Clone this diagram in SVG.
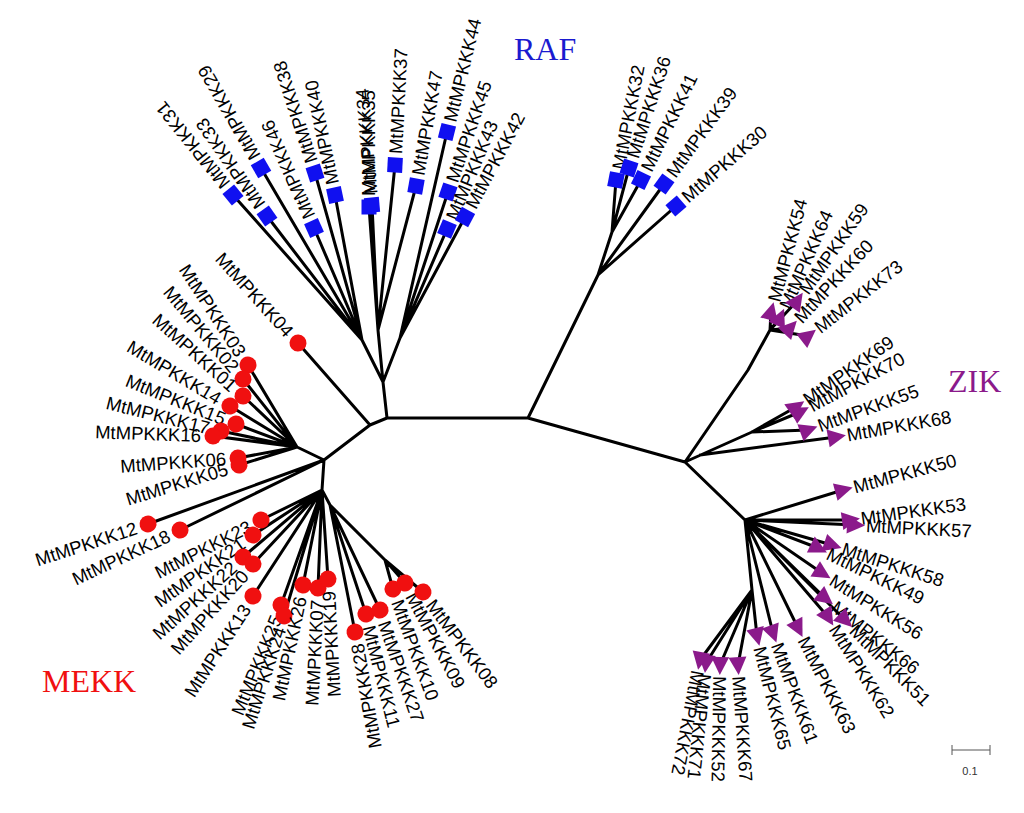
<svg xmlns="http://www.w3.org/2000/svg" xmlns:xlink="http://www.w3.org/1999/xlink" width="1024" height="813" viewBox="0 0 1024 813">
<style>
text{font-family:"Liberation Sans",Arial,sans-serif;font-size:18.5px;fill:#000}
.n text{text-anchor:start}
.e text{text-anchor:end}
.grp{font-family:"Liberation Serif","Times New Roman",serif;font-size:32px}
.br{fill:none;stroke:#000;stroke-width:3;stroke-linecap:round;stroke-linejoin:round}
</style>
<defs>
<rect id="sq" x="-7.5" y="-7.5" width="15" height="15" fill="#1010f0"/>
<circle id="ci" r="8.5" fill="#f01010"/>
<polygon id="tr" points="-8,-9 10,0 -8,9" fill="#8b1a8b"/>
</defs>
<rect width="1024" height="813" fill="#fff"/>
<g id="connectors" class="br">
<path d="M387,418 L528,418 L685,462 M387,418 L383,382
M383,382 L362,340 M362,340 L233,195 M362,340 L267,216 M362,340 L261,168 M362,340 L314,228 M362,340 L315,173 M362,340 L335,195
M383,382 L378,330 M378,330 L372,205 M378,330 L369,207 M378,330 L395,165 M378,330 L416,186
M383,382 L400,338 M400,338 L447,132 M400,338 L448,192 M400,338 L447,229 M400,338 L465,217
M528,418 L598,275 L612,232 M612,232 L616,180 M612,232 L629,168 M612,232 L641,180 M598,275 L664,184 M598,275 L676,206
M685,462 L748,370 L770,330 M770,330 L771,312 M770,330 L780,318 M770,330 L797,301 M770,330 L790,328 M770,330 L808,336
M685,462 L752,432 M752,432 L796,407 M752,432 L800,412 M752,432 L808,430 M700,455 L836,437
M685,462 L745,520 M745,520 L843,490 M745,520 L850,520 M745,520 L855,525 M745,520 L832,545 M745,520 L818,548 M745,520 L822,573 M745,520 L825,598 M745,520 L845,620 M745,520 L828,617 M745,520 L798,628 M745,520 L773,633
M745,520 L752,590 M752,590 L757,636 M752,590 L738,665 M752,590 L720,665 M752,590 L706,663 M752,590 L700,660
M387,418 L370,425 L324,460 M370,425 L298,343 M324,460 L297,447
M297,447 L248,365 M297,447 L243,379 M297,447 L243,396 M297,447 L230,406 M297,447 L236,424 M297,447 L221,431 M297,447 L213,436 M297,447 L238,458 M297,447 L239,465
M324,460 L148,524 M324,460 L180,530 M324,460 L322,490
M322,490 L261,520 M322,490 L253,535 M322,490 L243,557 M322,490 L253,564 M322,490 L253,596 M322,490 L281,605 M322,490 L284,616 M322,490 L303,585 M322,490 L318,588 M322,490 L328,579
M322,490 L330,505 M330,505 L355,632 M330,505 L366,614 M330,505 L380,610 M330,505 L385,560 M385,560 L393,589 M385,560 L405,583 M385,560 L423,592"/>
</g>
<g id="RAF" class="n">
<g id="MtMPKKK31" transform="translate(233,195) rotate(-129)"><use href="#sq"/><text x="11" dy="0.35em">MtMPKKK31</text></g>
<g id="MtMPKKK33" transform="translate(267,216) rotate(-125)"><use href="#sq"/><text x="11" dy="0.35em">MtMPKKK33</text></g>
<g id="MtMPKKK29" transform="translate(261,168) rotate(-120)"><use href="#sq"/><text x="11" dy="0.35em">MtMPKKK29</text></g>
<g id="MtMPKKK46" transform="translate(314,228) rotate(-114)"><use href="#sq"/><text x="11" dy="0.35em">MtMPKKK46</text></g>
<g id="MtMPKKK38" transform="translate(315,173) rotate(-108)"><use href="#sq"/><text x="11" dy="0.35em">MtMPKKK38</text></g>
<g id="MtMPKKK40" transform="translate(335,195) rotate(-102)"><use href="#sq"/><text x="11" dy="0.35em">MtMPKKK40</text></g>
<g id="MtMPKKK34" transform="translate(372,205) rotate(-95)"><use href="#sq"/><text x="11" dy="0.35em">MtMPKKK34</text></g>
<g id="MtMPKKK35" transform="translate(369,207) rotate(-90)"><use href="#sq"/><text x="11" dy="0.35em">MtMPKKK35</text></g>
<g id="MtMPKKK37" transform="translate(395,165) rotate(-87)"><use href="#sq"/><text x="11" dy="0.35em">MtMPKKK37</text></g>
<g id="MtMPKKK47" transform="translate(416,186) rotate(-80)"><use href="#sq"/><text x="11" dy="0.35em">MtMPKKK47</text></g>
<g id="MtMPKKK44" transform="translate(447,132) rotate(-76)"><use href="#sq"/><text x="11" dy="0.35em">MtMPKKK44</text></g>
<g id="MtMPKKK45" transform="translate(448,192) rotate(-71)"><use href="#sq"/><text x="11" dy="0.35em">MtMPKKK45</text></g>
<g id="MtMPKKK43" transform="translate(447,229) rotate(-67)"><use href="#sq"/><text x="11" dy="0.35em">MtMPKKK43</text></g>
<g id="MtMPKKK42" transform="translate(465,217) rotate(-62)"><use href="#sq"/><text x="11" dy="0.35em">MtMPKKK42</text></g>
<g id="MtMPKKK32" transform="translate(616,180) rotate(-79)"><use href="#sq"/><text x="11" dy="0.35em">MtMPKKK32</text></g>
<g id="MtMPKKK36" transform="translate(629,168) rotate(-72)"><use href="#sq"/><text x="11" dy="0.35em">MtMPKKK36</text></g>
<g id="MtMPKKK41" transform="translate(641,180) rotate(-64)"><use href="#sq"/><text x="11" dy="0.35em">MtMPKKK41</text></g>
<g id="MtMPKKK39" transform="translate(664,184) rotate(-54)"><use href="#sq"/><text x="11" dy="0.35em">MtMPKKK39</text></g>
<g id="MtMPKKK30" transform="translate(676,206) rotate(-41)"><use href="#sq"/><text x="11" dy="0.35em">MtMPKKK30</text></g>
</g>
<g id="ZIK" class="n">
<g id="MtMPKKK54" transform="translate(771,312) rotate(-75)"><use href="#tr"/><text x="11" dy="0.35em">MtMPKKK54</text></g>
<g id="MtMPKKK64" transform="translate(780,318) rotate(-66)"><use href="#tr"/><text x="11" dy="0.35em">MtMPKKK64</text></g>
<g id="MtMPKKK59" transform="translate(797,301) rotate(-55)"><use href="#tr"/><text x="11" dy="0.35em">MtMPKKK59</text></g>
<g id="MtMPKKK60" transform="translate(790,328) rotate(-47)"><use href="#tr"/><text x="11" dy="0.35em">MtMPKKK60</text></g>
<g id="MtMPKKK73" transform="translate(808,336) rotate(-38)"><use href="#tr"/><text x="11" dy="0.35em">MtMPKKK73</text></g>
<g id="MtMPKKK69" transform="translate(796,407) rotate(-35)"><use href="#tr"/><text x="11" dy="0.35em">MtMPKKK69</text></g>
<g id="MtMPKKK70" transform="translate(800,412) rotate(-28)"><use href="#tr"/><text x="11" dy="0.35em">MtMPKKK70</text></g>
<g id="MtMPKKK55" transform="translate(808,430) rotate(-20)"><use href="#tr"/><text x="11" dy="0.35em">MtMPKKK55</text></g>
<g id="MtMPKKK68" transform="translate(836,437) rotate(-10)"><use href="#tr"/><text x="11" dy="0.35em">MtMPKKK68</text></g>
<g id="MtMPKKK50" transform="translate(843,490) rotate(-15)"><use href="#tr"/><text x="11" dy="0.35em">MtMPKKK50</text></g>
<g id="MtMPKKK53" transform="translate(850,520) rotate(-8)"><use href="#tr"/><text x="11" dy="0.35em">MtMPKKK53</text></g>
<g id="MtMPKKK57" transform="translate(855,525) rotate(3)"><use href="#tr"/><text x="11" dy="0.35em">MtMPKKK57</text></g>
<g id="MtMPKKK58" transform="translate(832,545) rotate(18)"><use href="#tr"/><text x="11" dy="0.35em">MtMPKKK58</text></g>
<g id="MtMPKKK49" transform="translate(818,548) rotate(26)"><use href="#tr"/><text x="11" dy="0.35em">MtMPKKK49</text></g>
<g id="MtMPKKK56" transform="translate(822,573) rotate(32)"><use href="#tr"/><text x="11" dy="0.35em">MtMPKKK56</text></g>
<g id="MtMPKKK66" transform="translate(825,598) rotate(38)"><use href="#tr"/><text x="11" dy="0.35em">MtMPKKK66</text></g>
<g id="MtMPKKK51" transform="translate(845,620) rotate(45)"><use href="#tr"/><text x="11" dy="0.35em">MtMPKKK51</text></g>
<g id="MtMPKKK62" transform="translate(828,617) rotate(58)"><use href="#tr"/><text x="11" dy="0.35em">MtMPKKK62</text></g>
<g id="MtMPKKK63" transform="translate(798,628) rotate(63)"><use href="#tr"/><text x="11" dy="0.35em">MtMPKKK63</text></g>
<g id="MtMPKKK61" transform="translate(773,633) rotate(70)"><use href="#tr"/><text x="11" dy="0.35em">MtMPKKK61</text></g>
<g id="MtMPKKK65" transform="translate(757,636) rotate(76)"><use href="#tr"/><text x="11" dy="0.35em">MtMPKKK65</text></g>
<g id="MtMPKKK67" transform="translate(738,665) rotate(86)"><use href="#tr"/><text x="11" dy="0.35em">MtMPKKK67</text></g>
<g id="MtMPKKK52" transform="translate(720,665) rotate(91)"><use href="#tr"/><text x="11" dy="0.35em">MtMPKKK52</text></g>
<g id="MtMPKKK71" transform="translate(706,663) rotate(96)"><use href="#tr"/><text x="11" dy="0.35em">MtMPKKK71</text></g>
<g id="MtMPKKK72" transform="translate(700,660) rotate(101)"><use href="#tr"/><text x="11" dy="0.35em">MtMPKKK72</text></g>
</g>
<g id="MEKK">
<g class="e">
<g id="MtMPKKK04" transform="translate(298,343) rotate(48)"><use href="#ci"/><text x="-12" dy="0.35em">MtMPKKK04</text></g>
<g id="MtMPKKK03" transform="translate(248,365) rotate(57)"><use href="#ci"/><text x="-12" dy="0.35em">MtMPKKK03</text></g>
<g id="MtMPKKK02" transform="translate(243,379) rotate(50)"><use href="#ci"/><text x="-12" dy="0.35em">MtMPKKK02</text></g>
<g id="MtMPKKK01" transform="translate(243,396) rotate(42)"><use href="#ci"/><text x="-12" dy="0.35em">MtMPKKK01</text></g>
<g id="MtMPKKK14" transform="translate(230,406) rotate(31)"><use href="#ci"/><text x="-12" dy="0.35em">MtMPKKK14</text></g>
<g id="MtMPKKK15" transform="translate(236,424) rotate(22)"><use href="#ci"/><text x="-12" dy="0.35em">MtMPKKK15</text></g>
<g id="MtMPKKK17" transform="translate(221,431) rotate(14)"><use href="#ci"/><text x="-12" dy="0.35em">MtMPKKK17</text></g>
<g id="MtMPKKK16" transform="translate(213,436) rotate(2)"><use href="#ci"/><text x="-12" dy="0.35em">MtMPKKK16</text></g>
<g id="MtMPKKK06" transform="translate(238,458) rotate(-4)"><use href="#ci"/><text x="-12" dy="0.35em">MtMPKKK06</text></g>
<g id="MtMPKKK05" transform="translate(239,465) rotate(-17)"><use href="#ci"/><text x="-12" dy="0.35em">MtMPKKK05</text></g>
<g id="MtMPKKK12" transform="translate(148,524) rotate(-18)"><use href="#ci"/><text x="-12" dy="0.35em">MtMPKKK12</text></g>
<g id="MtMPKKK18" transform="translate(180,530) rotate(-25)"><use href="#ci"/><text x="-12" dy="0.35em">MtMPKKK18</text></g>
<g id="MtMPKKK23" transform="translate(261,520) rotate(-27)"><use href="#ci"/><text x="-12" dy="0.35em">MtMPKKK23</text></g>
<g id="MtMPKKK21" transform="translate(253,535) rotate(-35)"><use href="#ci"/><text x="-12" dy="0.35em">MtMPKKK21</text></g>
<g id="MtMPKKK22" transform="translate(243,557) rotate(-42)"><use href="#ci"/><text x="-12" dy="0.35em">MtMPKKK22</text></g>
<g id="MtMPKKK20" transform="translate(253,564) rotate(-48)"><use href="#ci"/><text x="-12" dy="0.35em">MtMPKKK20</text></g>
<g id="MtMPKKK13" transform="translate(253,596) rotate(-57)"><use href="#ci"/><text x="-12" dy="0.35em">MtMPKKK13</text></g>
<g id="MtMPKKK25" transform="translate(281,605) rotate(-68)"><use href="#ci"/><text x="-12" dy="0.35em">MtMPKKK25</text></g>
<g id="MtMPKKK24" transform="translate(284,616) rotate(-72)"><use href="#ci"/><text x="-12" dy="0.35em">MtMPKKK24</text></g>
<g id="MtMPKKK26" transform="translate(303,585) rotate(-78)"><use href="#ci"/><text x="-12" dy="0.35em">MtMPKKK26</text></g>
<g id="MtMPKKK07" transform="translate(318,588) rotate(-87)"><use href="#ci"/><text x="-12" dy="0.35em">MtMPKKK07</text></g>
<g id="MtMPKKK19" transform="translate(328,579) rotate(-93)"><use href="#ci"/><text x="-12" dy="0.35em">MtMPKKK19</text></g>
<g id="MtMPKKK28" transform="translate(355,632) rotate(-100)"><use href="#ci"/><text x="-12" dy="0.35em">MtMPKKK28</text></g>
</g>
<g class="n">
<g id="MtMPKKK11" transform="translate(366,614) rotate(76)"><use href="#ci"/><text x="12" dy="0.35em">MtMPKKK11</text></g>
<g id="MtMPKKK27" transform="translate(380,610) rotate(71)"><use href="#ci"/><text x="12" dy="0.35em">MtMPKKK27</text></g>
<g id="MtMPKKK10" transform="translate(393,589) rotate(70)"><use href="#ci"/><text x="12" dy="0.35em">MtMPKKK10</text></g>
<g id="MtMPKKK09" transform="translate(405,583) rotate(62)"><use href="#ci"/><text x="12" dy="0.35em">MtMPKKK09</text></g>
<g id="MtMPKKK08" transform="translate(423,592) rotate(53)"><use href="#ci"/><text x="12" dy="0.35em">MtMPKKK08</text></g>
</g>
</g>
<text class="grp" x="514" y="60" style="fill:#1a1ad0">RAF</text>
<text class="grp" x="948" y="392" style="fill:#8b1a8b">ZIK</text>
<text class="grp" x="42" y="692" style="fill:#f01010">MEKK</text>
<g id="scale">
<path d="M952,750 H990 M952,745 V755 M990,745 V755" stroke="#555" stroke-width="1" fill="none"/>
<text x="970" y="775" text-anchor="middle" style="font-size:11px;fill:#333">0.1</text>
</g>
</svg>
